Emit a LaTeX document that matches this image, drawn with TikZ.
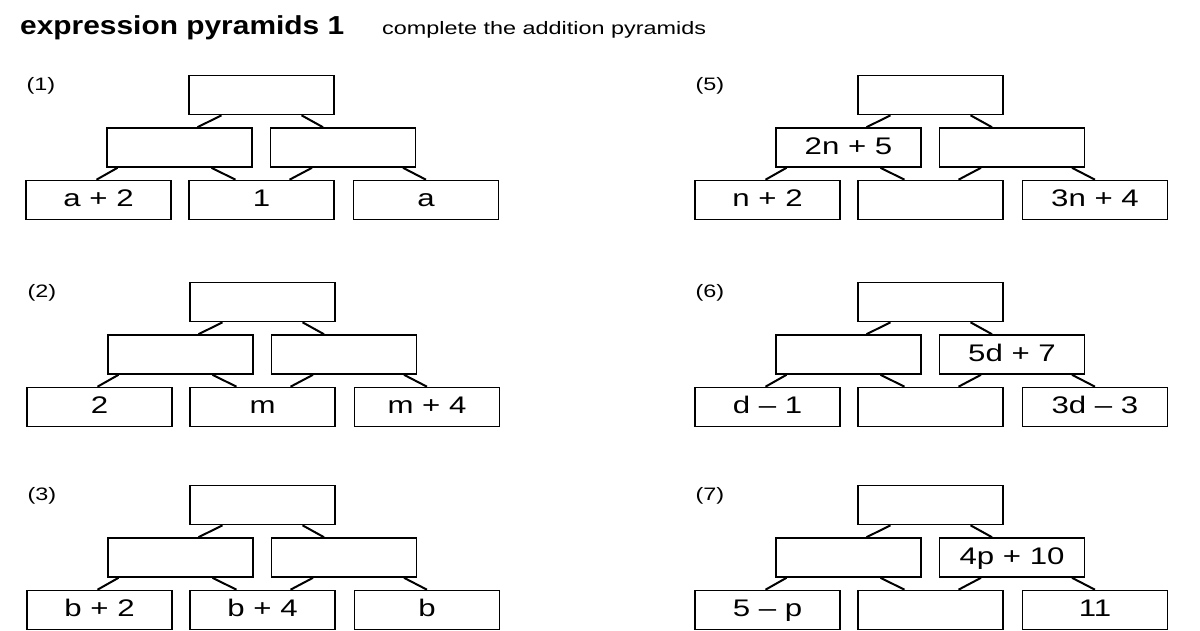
\documentclass[tikz,border=0pt]{standalone}
\usepackage{fontspec}
\setmainfont{Liberation Sans}
\newfontfamily\wide[FakeStretch=1.3]{Liberation Sans}
\newfontfamily\wideb[FakeStretch=1.15]{Liberation Sans Bold}
\usetikzlibrary{calc}
\tikzset{bx/.style={draw,line width=1.6pt,minimum width=145pt,minimum height=39pt,inner sep=0pt,text height=17pt,text depth=4pt,font=\wide\fontsize{24}{24}\selectfont},
ln/.style={line width=2pt}}
\newcommand\pyr[9]{%
\begin{scope}[shift={(#2,#3)}]
\node[anchor=west,font=\wide\fontsize{18}{18}\selectfont] (#1l) at (23,86) {#4};
\node[bx] (#1t) at (261.5,95) {};
\node[bx] (#1a) at (179.5,147.5) {#5};
\node[bx] (#1b) at (343,147.5) {#6};
\node[bx] (#1c) at (98.5,200) {#7};
\node[bx] (#1d) at (261.5,200) {#8};
\node[bx] (#1e) at (426,200) {#9};
\end{scope}
\draw[ln] ($(#1t.south)+(-40,0)$) -- ($(#1a.north)+(18,0)$);
\draw[ln] ($(#1t.south)+(40,0)$) -- ($(#1b.north)+(-20,0)$);
\draw[ln] ($(#1a.south)+(-62,0)$) -- ($(#1c.north)+(-2,0)$);
\draw[ln] ($(#1a.south)+(32,0)$) -- ($(#1d.north)+(-26,0)$);
\draw[ln] ($(#1b.south)+(-31,0)$) -- ($(#1d.north)+(28,0)$);
\draw[ln] ($(#1b.south)+(60,0)$) -- ($(#1e.north)+(0,0)$);
}
\begin{document}
\begin{tikzpicture}[x=1pt,y=-1pt]
\path[use as bounding box] (0,0) rectangle (1200,630);
\node[anchor=base west,inner sep=0pt,font=\wideb\fontsize{26}{26}\selectfont] (title) at (20,34) {expression pyramids 1};
\node[anchor=base west,inner sep=0pt,font=\wide\fontsize{18}{18}\selectfont] (sub) at (382,34) {complete the addition pyramids};
\pyr{p1}{0}{0}{(1)}{}{}{a + 2}{1}{a}
\pyr{p2}{1}{207}{(2)}{}{}{2}{m}{m + 4}
\pyr{p3}{1}{410}{(3)}{}{}{b + 2}{b + 4}{b}
\pyr{p5}{669}{0}{(5)}{2n + 5}{}{n + 2}{}{3n + 4}
\pyr{p6}{669}{207}{(6)}{}{5d + 7}{d – 1}{}{3d – 3}
\pyr{p7}{669}{410}{(7)}{}{4p + 10}{5 – p}{}{11}
\end{tikzpicture}
\end{document}
